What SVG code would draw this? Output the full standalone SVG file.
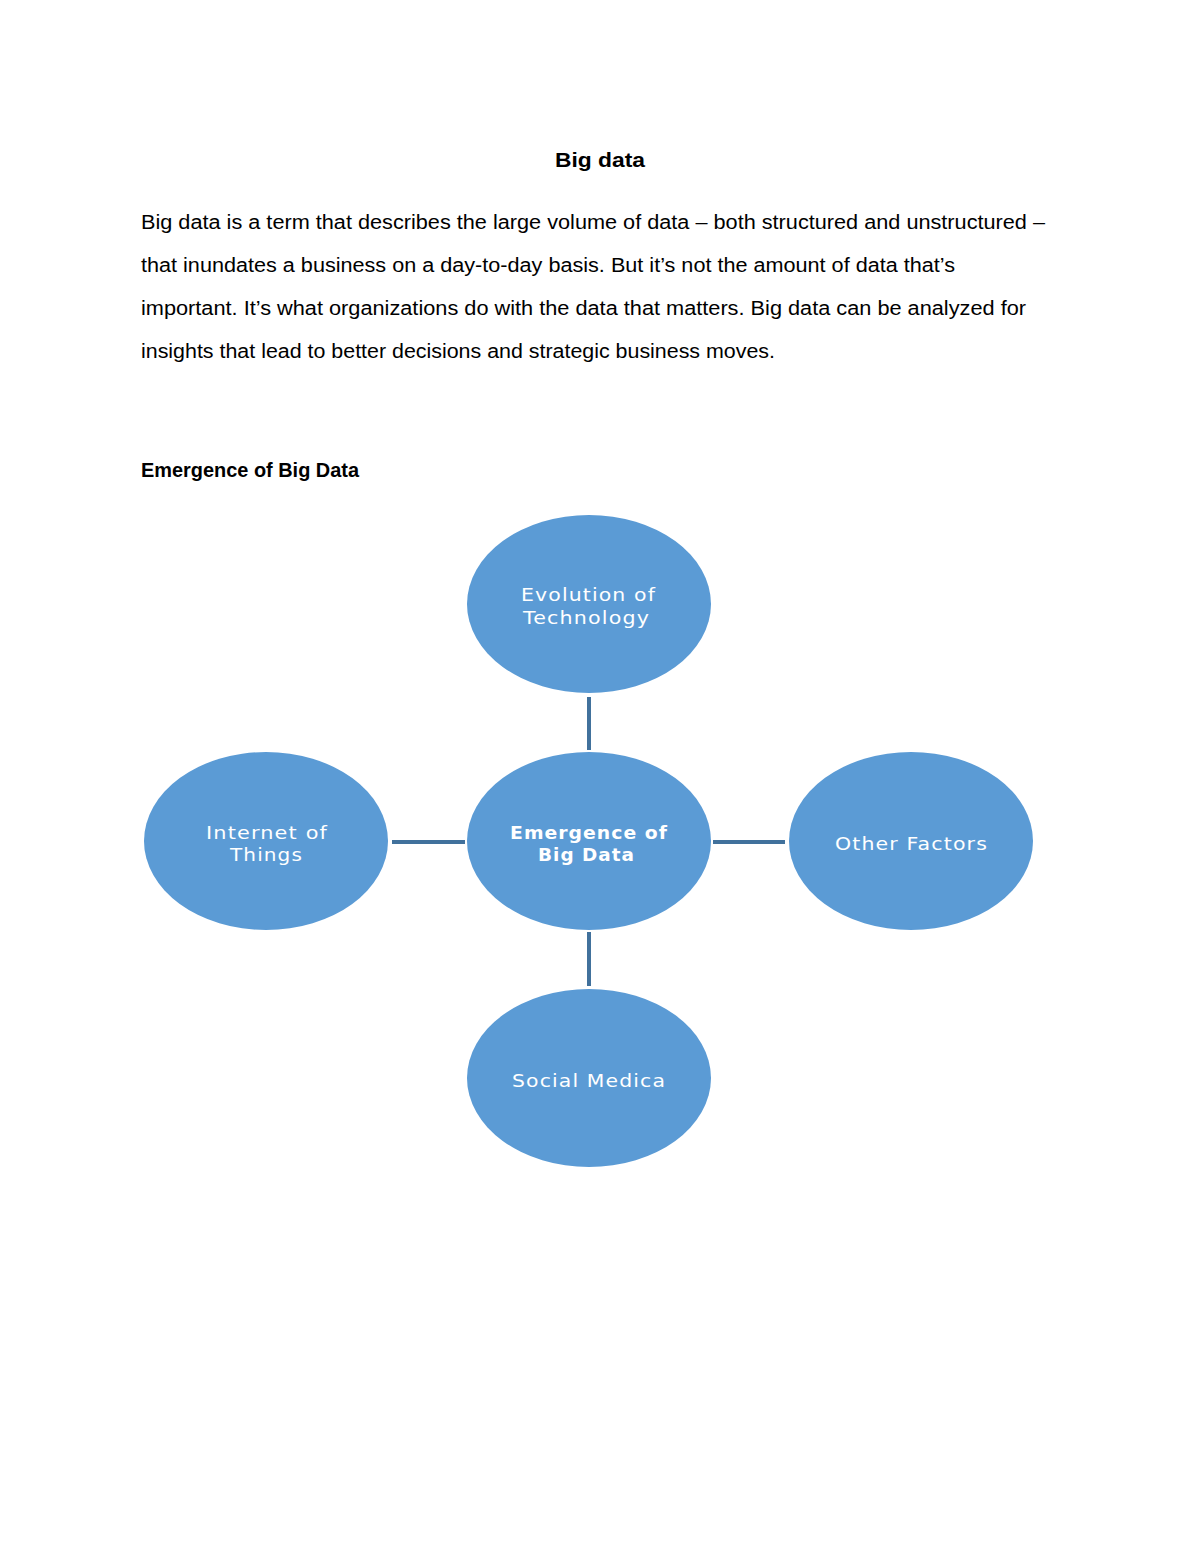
<svg xmlns="http://www.w3.org/2000/svg" width="1200" height="1553" viewBox="0 0 1200 1553">
<style>
.doc{font-family:"Liberation Sans",Arial,sans-serif;font-size:20px;fill:#000}
.b{font-weight:bold}
.node{fill:#5B9BD5}
.lbl{font-family:"DejaVu Sans",Verdana,sans-serif;font-size:18px;fill:#fff;letter-spacing:1px}
.conn{stroke:#41719C;stroke-width:4;fill:none}
</style>
<rect width="1200" height="1553" fill="#fff"/>
<text class="doc b" x="555" y="167" textLength="90" lengthAdjust="spacingAndGlyphs">Big data</text>
<text class="doc" x="141" y="229" textLength="904" lengthAdjust="spacingAndGlyphs">Big data is a term that describes the large volume of data – both structured and unstructured –</text>
<text class="doc" x="141" y="272" textLength="814" lengthAdjust="spacingAndGlyphs">that inundates a business on a day-to-day basis. But it’s not the amount of data that’s</text>
<text class="doc" x="141" y="315" textLength="885" lengthAdjust="spacingAndGlyphs">important. It’s what organizations do with the data that matters. Big data can be analyzed for</text>
<text class="doc" x="141" y="358" textLength="634" lengthAdjust="spacingAndGlyphs">insights that lead to better decisions and strategic business moves.</text>
<text class="doc b" x="141" y="477" textLength="218" lengthAdjust="spacingAndGlyphs">Emergence of Big Data</text>
<g id="connectors">
<line class="conn" x1="589" y1="697" x2="589" y2="750"/>
<line class="conn" x1="589" y1="932" x2="589" y2="986"/>
<line class="conn" x1="392" y1="842" x2="465" y2="842"/>
<line class="conn" x1="713" y1="842" x2="785" y2="842"/>
</g>
<g id="evolution">
<ellipse class="node" cx="589" cy="604" rx="122" ry="89"/>
<text class="lbl" x="521" y="601" textLength="135" lengthAdjust="spacingAndGlyphs">Evolution of</text>
<text class="lbl" x="523" y="624" textLength="127" lengthAdjust="spacingAndGlyphs">Technology</text>
</g>
<g id="emergence">
<ellipse class="node" cx="589" cy="841" rx="122" ry="89"/>
<text class="lbl b" x="510" y="839" textLength="158" lengthAdjust="spacingAndGlyphs">Emergence of</text>
<text class="lbl b" x="538" y="861" textLength="97" lengthAdjust="spacingAndGlyphs">Big Data</text>
</g>
<g id="iot">
<ellipse class="node" cx="266" cy="841" rx="122" ry="89"/>
<text class="lbl" x="206" y="839" textLength="122" lengthAdjust="spacingAndGlyphs">Internet of</text>
<text class="lbl" x="230" y="861" textLength="73" lengthAdjust="spacingAndGlyphs">Things</text>
</g>
<g id="other">
<ellipse class="node" cx="911" cy="841" rx="122" ry="89"/>
<text class="lbl" x="835" y="850" textLength="153" lengthAdjust="spacingAndGlyphs">Other Factors</text>
</g>
<g id="social">
<ellipse class="node" cx="589" cy="1078" rx="122" ry="89"/>
<text class="lbl" x="512" y="1087" textLength="154" lengthAdjust="spacingAndGlyphs">Social Medica</text>
</g>
</svg>
